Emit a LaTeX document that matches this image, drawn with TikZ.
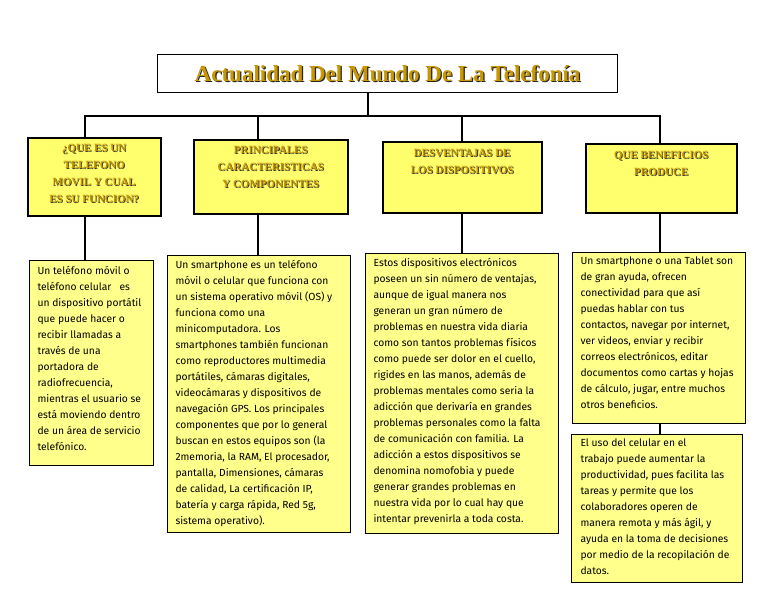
\documentclass[tikz,border=0pt]{standalone}
\usepackage{fontspec}
\setmainfont{Liberation Serif}
\newfontfamily\bodyf{Fira Sans}
\definecolor{boxy}{RGB}{255,255,140}
\definecolor{heady}{RGB}{255,255,110}
\definecolor{goldt}{RGB}{200,150,0}
\tikzset{
 hdr/.style={draw=black,line width=1.5pt,fill=heady,anchor=north west,inner sep=0pt},
 cnt/.style={draw=black,line width=0.8pt,fill=boxy,anchor=north west,inner sep=0pt},
 link/.style={line width=1.8pt},
 htxt/.style={font=\bfseries\fontsize{11}{17}\selectfont,text=goldt,align=center,anchor=north},
 hsh/.style={font=\bfseries\fontsize{11}{17}\selectfont,text=black!80,align=center,anchor=north},
 btxt/.style={font=\bodyf\fontsize{10.3}{16}\selectfont,align=left,anchor=north west}
}
\newcommand{\hlabel}[3]{%
 \node[hsh] at ([shift={(0.8pt,#2-0.8pt)}]#1.north) {#3};
 \node[htxt] at ([yshift=#2]#1.north) {#3};}
\begin{document}
\begin{tikzpicture}[x=1pt,y=-1pt]
\useasboundingbox (0,0) rectangle (768,594);
% title
\node[draw=black,line width=1.2pt,fill=white,minimum width=460pt,minimum height=38pt,anchor=north west,inner sep=0pt] (t) at (157,54) {};
\node[font=\bfseries\fontsize{23}{25}\selectfont,text=black!85] at ([shift={(1.2pt,-1.2pt)}]t.center) {Actualidad Del Mundo De La Telefonía};
\node[font=\bfseries\fontsize{23}{25}\selectfont,text=goldt] at (t.center) {Actualidad Del Mundo De La Telefonía};
% headers
\node[hdr,minimum width=133pt,minimum height=78pt] (h1) at (27,137) {};
\node[hdr,minimum width=154pt,minimum height=74pt] (h2) at (193,139) {};
\node[hdr,minimum width=159pt,minimum height=71pt] (h3) at (382,141) {};
\node[hdr,minimum width=151pt,minimum height=69pt] (h4) at (585,143) {};
\hlabel{h1}{-4pt}{¿QUE ES UN\\TELEFONO\\MOVIL Y CUAL\\ES SU FUNCION?}
\hlabel{h2}{-4pt}{PRINCIPALES\\CARACTERISTICAS\\Y COMPONENTES}
\hlabel{h3}{-5pt}{DESVENTAJAS DE\\LOS DISPOSITIVOS}
\hlabel{h4}{-5pt}{QUE BENEFICIOS\\PRODUCE}
% contents
\node[cnt,minimum width=124pt,minimum height=205pt] (c1) at (29,260) {};
\node[cnt,minimum width=183pt,minimum height=277pt] (c2) at (167,255) {};
\node[cnt,minimum width=193pt,minimum height=280pt] (c3) at (365,253) {};
\node[cnt,minimum width=173pt,minimum height=171pt] (c4) at (572,252) {};
\node[cnt,minimum width=171pt,minimum height=148pt] (c5) at (571,434) {};
\node[btxt] at ([shift={(5pt,-3pt)}]c1.north west) {Un teléfono móvil o\\teléfono celular\ \ \ es\\un dispositivo portátil\\que puede hacer o\\recibir llamadas a\\través de una\\portadora de\\radiofrecuencia,\\mientras el usuario se\\está moviendo dentro\\de un área de servicio\\telefónico.};
\node[btxt] at ([shift={(5pt,-2pt)}]c2.north west) {Un smartphone es un teléfono\\móvil o celular que funciona con\\un sistema operativo móvil (OS) y\\funciona como una\\minicomputadora. Los\\smartphones también funcionan\\como reproductores multimedia\\portátiles, cámaras digitales,\\videocámaras y dispositivos de\\navegación GPS. Los principales\\componentes que por lo general\\buscan en estos equipos son (la\\2memoria, la RAM, El procesador,\\pantalla, Dimensiones, cámaras\\de calidad, La certificación IP,\\batería y carga rápida, Red 5g,\\sistema operativo).};
\node[btxt] at ([shift={(5pt,-2pt)}]c3.north west) {Estos dispositivos electrónicos\\poseen un sin número de ventajas,\\aunque de igual manera nos\\generan un gran número de\\problemas en nuestra vida diaria\\como son tantos problemas físicos\\como puede ser dolor en el cuello,\\rigides en las manos, además de\\problemas mentales como seria la\\adicción que derivaría en grandes\\problemas personales como la falta\\de comunicación con familia. La\\adicción a estos dispositivos se\\denomina nomofobia y puede\\generar grandes problemas en\\nuestra vida por lo cual hay que\\intentar prevenirla a toda costa.};
\node[btxt] at ([shift={(5pt,-1pt)}]c4.north west) {Un smartphone o una Tablet son\\de gran ayuda, ofrecen\\conectividad para que así\\puedas hablar con tus\\contactos, navegar por internet,\\ver videos, enviar y recibir\\correos electrónicos, editar\\documentos como cartas y hojas\\de cálculo, jugar, entre muchos\\otros beneficios.};
\node[btxt] at ([shift={(6pt,-1pt)}]c5.north west) {El uso del celular en el\\trabajo puede aumentar la\\productividad, pues facilita las\\tareas y permite que los\\colaboradores operen de\\manera remota y más ágil, y\\ayuda en la toma de decisiones\\por medio de la recopilación de\\datos.};
% connectors
\coordinate (j) at (368,116);
\draw[link] (t.south -| j) -- (j);
\draw[link] (h1.north -| 85,0) |- (j) -| (h4.north -| 660,0);
\draw[link] (h2.north -| 258,0) -- (258,116);
\draw[link] (h3.north -| 462,0) -- (462,116);
\draw[link] (h1.south -| 85,0) -- (c1.north -| 85,0);
\draw[link] (h2.south -| 258,0) -- (c2.north -| 258,0);
\draw[link] (h3.south -| 462,0) -- (c3.north -| 462,0);
\draw[link] (h4.south -| 660,0) -- (c4.north -| 660,0);
\draw[link] (c4.south -| 660,0) -- (c5.north -| 660,0);
\end{tikzpicture}
\end{document}
